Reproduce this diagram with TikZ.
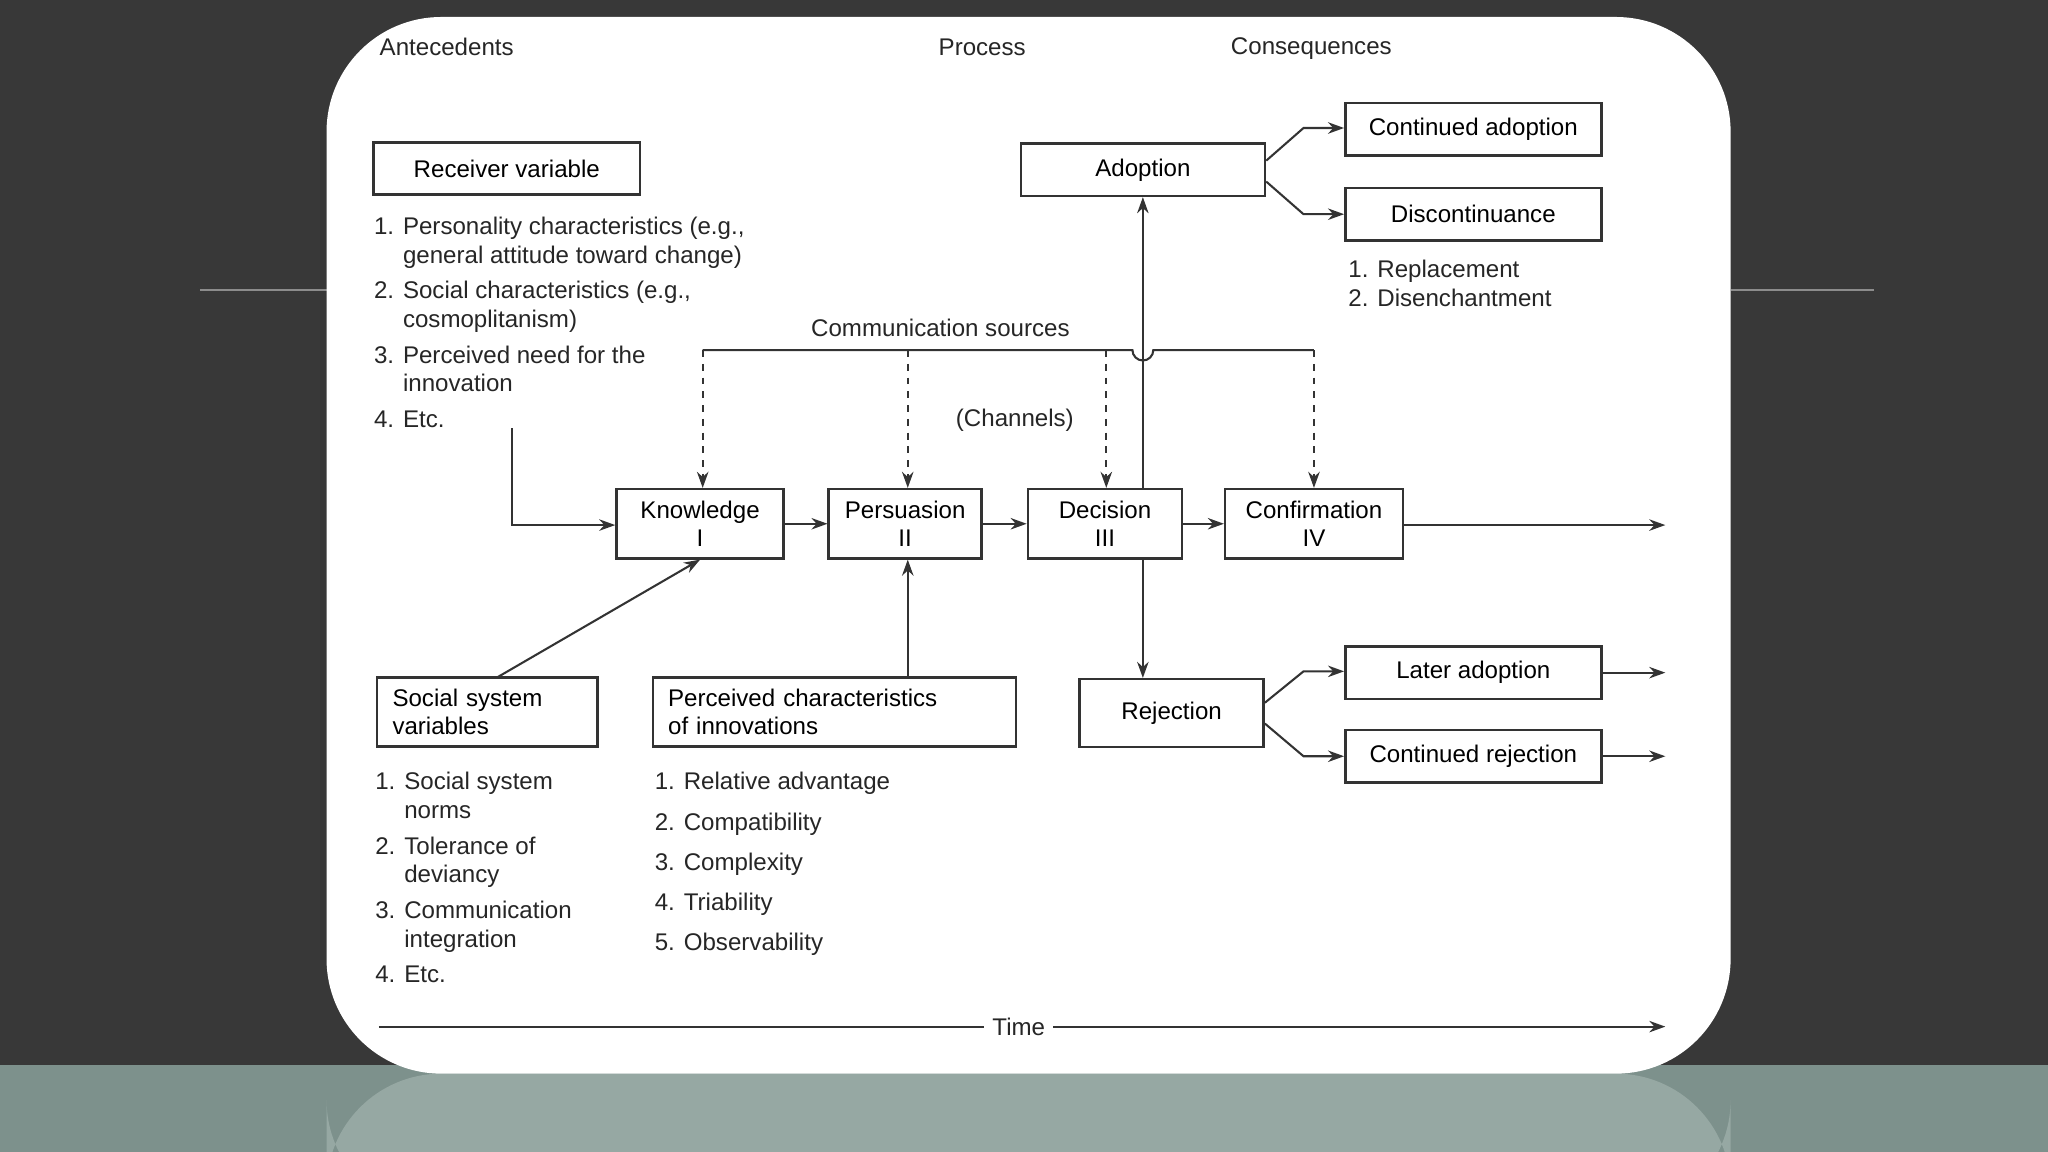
\documentclass[tikz,border=0pt]{standalone}
\usepackage{fontspec}
\setmainfont{Liberation Sans}
\usetikzlibrary{arrows.meta}
\begin{document}
\begin{tikzpicture}[x=0.02cm,y=-0.02cm,
  box/.style={draw=black!80,line width=1.1pt,minimum height=0.8cm,inner sep=2pt,font=\fontsize{10.5}{12.5}\selectfont,align=center},
  ar/.style={-{Stealth[length=7pt,width=5pt]},line width=0.9pt,draw=black!80},
  ln/.style={line width=0.9pt,draw=black!80},
  txt/.style={font=\fontsize{10.5}{12.5}\selectfont,text=black!85,anchor=north west,align=left,inner sep=0}]
\useasboundingbox (0,0) rectangle (1568,882);
\clip (0,0) rectangle (1568,882);
\fill[black!78] (0,0) rectangle (1568,882);
\fill[fill={rgb,255:red,125;green,145;blue,140}] (0,815) rectangle (1568,882);
\fill[fill={rgb,255:red,150;green,168;blue,163},rounded corners=50] (250,822) rectangle (1325,930);
\draw[black!45,line width=0.6pt] (153,222) -- (250,222) (1325,222) -- (1435,222);
\fill[white,rounded corners=50] (250,13) rectangle (1325,822);
\begin{scope}[font=\fontsize{10.5}{12}\selectfont]
\node[text=black!85] (h1) at (342,36) {Antecedents};
\node[text=black!85] (h2) at (752,36) {Process};
\node[text=black!85] (h3) at (1004,37) {Consequences};
\node[box,minimum width=4.08cm] (rv) at (388,129) {Receiver variable};
\node[box,minimum width=3.74cm] (ad) at (875,130) {Adoption};
\node[box,minimum width=3.92cm] (ca) at (1128,99) {Continued adoption};
\node[box,minimum width=3.92cm] (dc) at (1128,164) {Discontinuance};
\node[box,minimum width=2.56cm,minimum height=1.06cm] (kn) at (536,401) {Knowledge\\I};
\node[box,minimum width=2.34cm,minimum height=1.06cm] (pe) at (693,401) {Persuasion\\II};
\node[box,minimum width=2.36cm,minimum height=1.06cm] (de) at (846,401) {Decision\\III};
\node[box,minimum width=2.72cm,minimum height=1.06cm] (co) at (1006,401) {Confirmation\\IV};
\node[box,minimum width=3.38cm,minimum height=1.06cm,align=left,text width=2.9cm] (ss) at (373,545) {Social system\\variables};
\node[box,minimum width=5.56cm,minimum height=1.06cm,align=left,text width=5.1cm] (pc) at (639,545) {Perceived characteristics\\of innovations};
\node[box,minimum width=2.82cm,minimum height=1.04cm] (rj) at (897,546) {Rejection};
\node[box,minimum width=3.92cm] (la) at (1128,515) {Later adoption};
\node[box,minimum width=3.92cm] (cr) at (1128,579) {Continued rejection};
\end{scope}
\node[txt] (l1) at (286,166) {1. Personality characteristics (e.g.,\\\phantom{1. }general attitude toward change)\\[3pt]2. Social characteristics (e.g.,\\\phantom{2. }cosmoplitanism)\\[3pt]3. Perceived need for the\\\phantom{3. }innovation\\[3pt]4. Etc.};
\node[txt] (l2) at (1032,199) {1. Replacement\\2. Disenchantment};
\node[txt] (l3) at (287,591) {1. Social system\\\phantom{1. }norms\\[3pt]2. Tolerance of\\\phantom{2. }deviancy\\[3pt]3. Communication\\\phantom{3. }integration\\[3pt]4. Etc.};
\node[txt,align=left] (l4) at (501,591) {1. Relative advantage\\[5pt]2. Compatibility\\[5pt]3. Complexity\\[5pt]4. Triability\\[5pt]5. Observability};
\node[font=\fontsize{10.5}{12}\selectfont,text=black!85] (cs) at (720,251) {Communication sources};
\node[font=\fontsize{10.5}{12}\selectfont,text=black!85] (ch) at (777,322) {(Channels)};
\coordinate (c1) at (538,268); \coordinate (c4) at (1006,268);
\draw[ln] (c1) -- (867,268) arc (180:0:8) -- (c4);
\draw[ar,dashed] (c1) -- (kn.north -| c1);
\draw[ar,dashed] (695,268) -- (pe.north -| 695,0);
\draw[ar,dashed] (847,268) -- (de.north -| 847,0);
\draw[ar,dashed] (c4) -- (co.north);
\draw[ar] (de.north -| 875,0) -- (ad.south -| 875,0);
\draw[ar] (de.south -| 875,0) -- (rj.north -| 875,0);
\coordinate (r0) at (392,328);
\draw[ar] (r0) -- (392,402) -- (kn.west |- 0,402);
\draw[ar] (kn) -- (pe);
\draw[ar] (pe) -- (de);
\draw[ar] (de) -- (co);
\coordinate (e1) at (1275,402);
\draw[ar] (co.east |- e1) -- (e1);
\draw[ar] (380,519) -- (kn.south);
\draw[ar] (pc.north -| 695,0) -- (pe.south -| 695,0);
\draw[ar] (ad.east |- 0,123) -- (998,98) -- (ca.west |- 0,98);
\draw[ar] (ad.east |- 0,139) -- (998,164) -- (dc.west);
\draw[ar] (rj.east |- 0,538) -- (998,514) -- (la.west |- 0,514);
\draw[ar] (rj.east |- 0,554) -- (998,579) -- (cr.west);
\coordinate (e2) at (1275,515); \coordinate (e3) at (1275,579);
\draw[ar] (la) -- (e2);
\draw[ar] (cr) -- (e3);
\node[font=\fontsize{10.5}{12}\selectfont,text=black!85] (tm) at (780,786) {Time};
\coordinate (t0) at (290,786); \coordinate (t1) at (1275,786);
\draw[ln] (t0) -- (tm.west);
\draw[ar] (tm.east) -- (t1);
\end{tikzpicture}
\end{document}
